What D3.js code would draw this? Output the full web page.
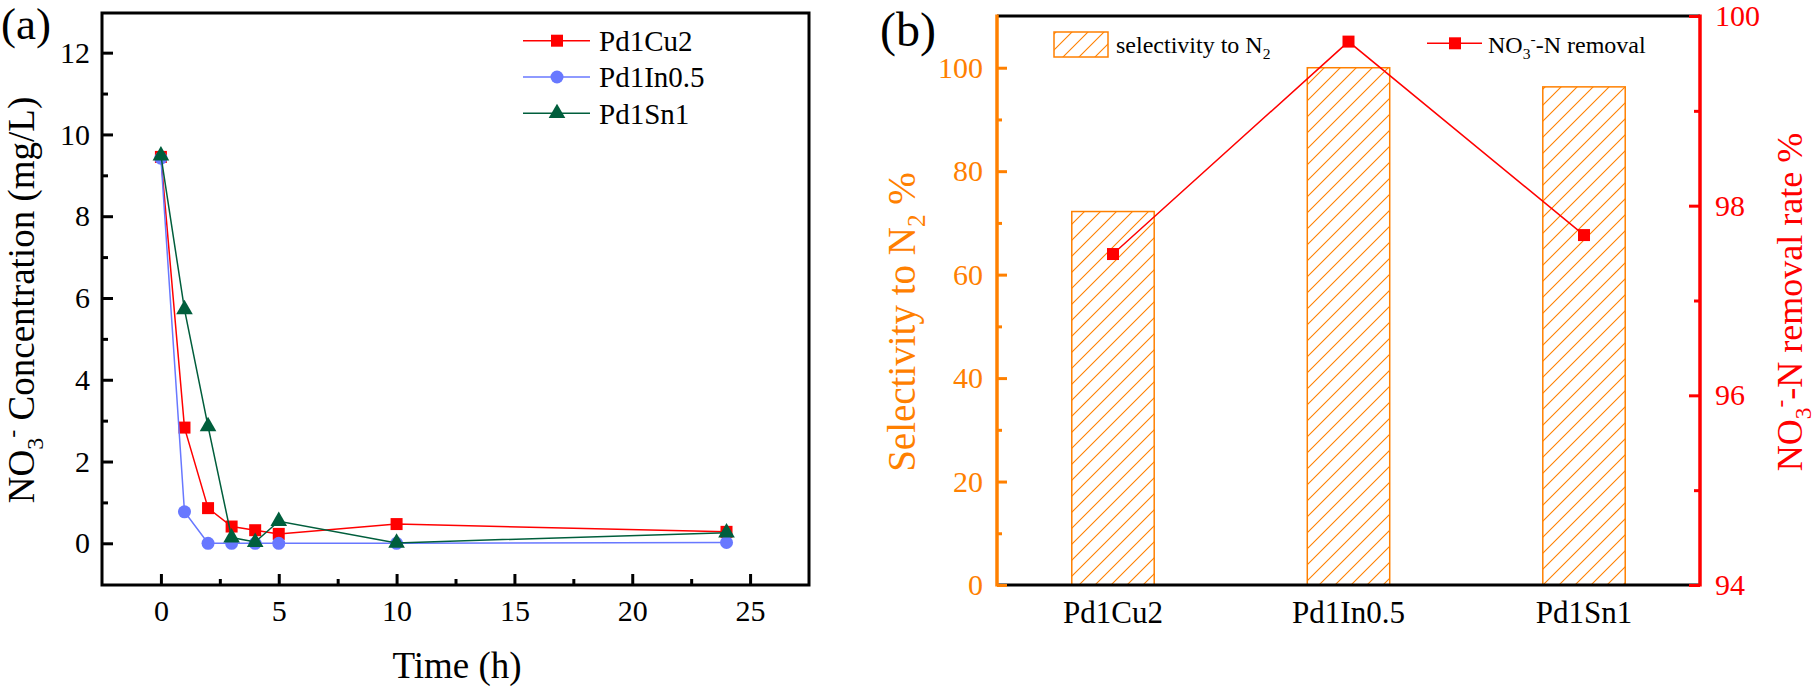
<!DOCTYPE html>
<html>
<head>
<meta charset="utf-8">
<script src="https://cdn.jsdelivr.net/npm/d3@7"></script>
<style>
  html, body { margin: 0; padding: 0; background: #fff; }
  svg { display: block; }
  svg text { font-family: "Liberation Serif", Tinos, "Times New Roman", "DejaVu Serif", serif !important; }
</style>
</head>
<body>
<script>
// ---------- Data: panel (a) ----------
const timeH   = [0, 1, 2, 3, 4, 5, 10, 24];
const pd1Cu2  = [9.45, 2.83, 0.86, 0.41, 0.32, 0.23, 0.47, 0.28];
const pd1In05 = [9.42, 0.77, 0.0, 0.0, 0.0, 0.0, 0.0, 0.02];
const pd1Sn1  = [9.48, 5.72, 2.86, 0.14, 0.03, 0.54, 0.01, 0.26];
const seriesNamesA = ["Pd1Cu2", "Pd1In0.5", "Pd1Sn1"];
const xTicksA = [0, 5, 10, 15, 20, 25];
const xMinorA = [2.5, 7.5, 12.5, 17.5, 22.5];
const yTicksA = [0, 2, 4, 6, 8, 10, 12];
const yMinorA = [1, 3, 5, 7, 9, 11];

// ---------- Data: panel (b) ----------
const catalysts   = ["Pd1Cu2", "Pd1In0.5", "Pd1Sn1"];
const selectivity = [72.2, 100, 96.3];
const removalRate = [97.49, 99.73, 97.69];
const yTicksB  = [0, 20, 40, 60, 80, 100];
const yMinorB  = [10, 30, 50, 70, 90];
const yTicksR  = [94, 96, 98, 100];
const yMinorR  = [95, 97, 99];

const ORANGE = "#FF8000", RED = "#FF0000", BLUE = "#6878FF", GREEN = "#005E3C";
const FONT = "Liberation Serif, Tinos, Times New Roman, DejaVu Serif, serif";

const svg = d3.select("body").append("svg").attr("width", 1817).attr("height", 688)
  .attr("font-family", FONT);

function richText(sel, parts, size) {
  let cur = 0;
  parts.forEach(p => {
    const target = p.sub ? size * 0.25 : (p.sup ? -size * 0.38 : 0);
    sel.append("tspan")
      .attr("dy", target - cur)
      .attr("font-size", (p.sub || p.sup) ? size * 0.65 : size)
      .text(p.t);
    cur = target;
  });
}

// ================= Panel (a) =================
const xA = d3.scaleLinear().domain([-2.5, 27.5]).range([102, 809]);
const yA = d3.scaleLinear().domain([-1.02, 12.97]).range([585, 13]);

const gA = svg.append("g");

function styleAxis(g, color) {
  g.attr("font-family", FONT);
  g.select(".domain").remove();
  g.selectAll("line").attr("stroke", color).attr("stroke-width", 3);
  g.selectAll("text").attr("fill", color).attr("font-family", FONT).attr("font-size", 30);
}

// left axis major/minor
gA.append("g").attr("transform", "translate(102,0)")
  .call(d3.axisLeft(yA).tickValues(yTicksA).tickSize(-11).tickPadding(12).tickFormat(d3.format("d")))
  .call(g => styleAxis(g, "#000"));
gA.append("g").attr("transform", "translate(102,0)")
  .call(d3.axisLeft(yA).tickValues(yMinorA).tickSize(-6).tickFormat(""))
  .call(g => styleAxis(g, "#000"));
// bottom axis major/minor
gA.append("g").attr("transform", "translate(0,585)")
  .call(d3.axisBottom(xA).tickValues(xTicksA).tickSize(-11).tickPadding(15).tickFormat(d3.format("d")))
  .call(g => styleAxis(g, "#000"));
gA.append("g").attr("transform", "translate(0,585)")
  .call(d3.axisBottom(xA).tickValues(xMinorA).tickSize(-6).tickFormat(""))
  .call(g => styleAxis(g, "#000"));

// frame
gA.append("rect").attr("x", xA.range()[0]).attr("y", yA.range()[1])
  .attr("width", xA.range()[1] - xA.range()[0]).attr("height", yA.range()[0] - yA.range()[1])
  .attr("fill", "none").attr("stroke", "#000").attr("stroke-width", 3);

const seriesA = [
  { name: seriesNamesA[0], vals: pd1Cu2, color: RED, sym: d3.symbolSquare, size: 144 },
  { name: seriesNamesA[1], vals: pd1In05, color: BLUE, sym: d3.symbolCircle, size: 133 },
  { name: seriesNamesA[2], vals: pd1Sn1, color: GREEN, sym: d3.symbolTriangle, size: 120 }
];
const lineA = d3.line().x(d => xA(d[0])).y(d => yA(d[1]));

seriesA.forEach(s => {
  const pts = timeH.map((t, i) => [t, s.vals[i]]);
  gA.append("path").attr("d", lineA(pts)).attr("fill", "none")
    .attr("stroke", s.color).attr("stroke-width", 1.5);
  gA.selectAll(null).data(pts).enter().append("path")
    .attr("transform", d => `translate(${xA(d[0])},${yA(d[1])})`)
    .attr("d", d3.symbol().type(s.sym).size(s.size)())
    .attr("fill", s.color);
});

// legend (a)
seriesA.forEach((s, i) => {
  const y = 40.7 + i * 36.3;
  gA.append("line").attr("x1", 523).attr("x2", 590).attr("y1", y).attr("y2", y)
    .attr("stroke", s.color).attr("stroke-width", 1.5);
  gA.append("path").attr("transform", `translate(557,${y})`)
    .attr("d", d3.symbol().type(s.sym).size(s.size)()).attr("fill", s.color);
  gA.append("text").attr("x", 599).attr("y", y).attr("dy", "0.36em")
    .attr("font-size", 29).attr("fill", "#000").text(s.name);
});

// axis titles (a)
gA.append("text").attr("x", 457).attr("y", 678).attr("text-anchor", "middle")
  .attr("font-size", 37).text("Time (h)");
const ytA = gA.append("text").attr("transform", "translate(34,300) rotate(-90)")
  .attr("text-anchor", "middle").attr("font-size", 37);
richText(ytA, [{ t: "NO" }, { t: "3", sub: true }, { t: "-", sup: true }, { t: " Concentration (mg/L)" }], 37);

svg.append("text").attr("x", 1).attr("y", 39).attr("font-size", 45).text("(a)");

// ================= Panel (b) =================
const xB = d3.scaleBand().domain(catalysts).range([997, 1700]).paddingInner(0.65).paddingOuter(0.3175);
const yB = d3.scaleLinear().domain([0, 110]).range([585, 16]);
const yR = d3.scaleLinear().domain([94, 100]).range([585, 16]);

const gB = svg.append("g");

const defs = svg.append("defs");
const pat = defs.append("pattern").attr("id", "hatch").attr("patternUnits", "userSpaceOnUse")
  .attr("width", 16).attr("height", 16);
pat.append("path").attr("d", "M-4,4 L4,-4 M0,16 L16,0 M12,20 L20,12")
  .attr("stroke", ORANGE).attr("stroke-width", 1.1).attr("fill", "none");

// bars
gB.selectAll(".bar").data(catalysts).enter().append("rect")
  .attr("x", d => xB(d)).attr("width", xB.bandwidth())
  .attr("y", (d, i) => yB(selectivity[i])).attr("height", (d, i) => yB(0) - yB(selectivity[i]))
  .attr("fill", "url(#hatch)").attr("stroke", ORANGE).attr("stroke-width", 1.5);

// top & bottom black lines
gB.append("line").attr("x1", 997).attr("x2", 1700).attr("y1", 16).attr("y2", 16)
  .attr("stroke", "#000").attr("stroke-width", 3);
gB.append("line").attr("x1", 997).attr("x2", 1700).attr("y1", 585).attr("y2", 585)
  .attr("stroke", "#000").attr("stroke-width", 3);

// left orange axis
gB.append("g").attr("transform", "translate(997,0)")
  .call(d3.axisLeft(yB).tickValues(yTicksB).tickSize(-10).tickPadding(14).tickFormat(d3.format("d")))
  .call(g => styleAxis(g, ORANGE));
gB.append("g").attr("transform", "translate(997,0)")
  .call(d3.axisLeft(yB).tickValues(yMinorB).tickSize(-5).tickFormat(""))
  .call(g => styleAxis(g, ORANGE));
gB.append("line").attr("x1", 997).attr("x2", 997).attr("y1", 14.5).attr("y2", 586.5)
  .attr("stroke", ORANGE).attr("stroke-width", 3.5);

// right red axis
gB.append("g").attr("transform", "translate(1700,0)")
  .call(d3.axisRight(yR).tickValues(yTicksR).tickSize(-11).tickPadding(15).tickFormat(d3.format("d")))
  .call(g => styleAxis(g, RED));
gB.append("g").attr("transform", "translate(1700,0)")
  .call(d3.axisRight(yR).tickValues(yMinorR).tickSize(-6).tickFormat(""))
  .call(g => styleAxis(g, RED));
gB.append("line").attr("x1", 1700).attr("x2", 1700).attr("y1", 14.5).attr("y2", 586.5)
  .attr("stroke", RED).attr("stroke-width", 3.5);

// category labels
gB.selectAll(".cat").data(catalysts).enter().append("text")
  .attr("x", d => xB(d) + xB.bandwidth() / 2).attr("y", 623)
  .attr("text-anchor", "middle").attr("font-size", 31).attr("fill", "#000").text(d => d);

// removal line
const ptsB = catalysts.map((c, i) => [xB(c) + xB.bandwidth() / 2, yR(removalRate[i])]);
gB.append("path").attr("d", d3.line()(ptsB)).attr("fill", "none")
  .attr("stroke", RED).attr("stroke-width", 1.5);
gB.selectAll(".sq").data(ptsB).enter().append("path")
  .attr("transform", d => `translate(${d[0]},${d[1]})`)
  .attr("d", d3.symbol().type(d3.symbolSquare).size(144)()).attr("fill", RED);

// legend (b)
gB.append("rect").attr("x", 1054).attr("y", 32).attr("width", 54).attr("height", 25)
  .attr("fill", "url(#hatch)").attr("stroke", ORANGE).attr("stroke-width", 1.5);
const lt1 = gB.append("text").attr("x", 1116).attr("y", 53).attr("font-size", 24).attr("fill", "#000");
richText(lt1, [{ t: "selectivity to N" }, { t: "2", sub: true }], 24);
gB.append("line").attr("x1", 1427).attr("x2", 1482).attr("y1", 43.3).attr("y2", 43.3)
  .attr("stroke", RED).attr("stroke-width", 1.5);
gB.append("path").attr("transform", "translate(1455,43.3)")
  .attr("d", d3.symbol().type(d3.symbolSquare).size(144)()).attr("fill", RED);
const lt2 = gB.append("text").attr("x", 1488).attr("y", 53).attr("font-size", 24).attr("fill", "#000");
richText(lt2, [{ t: "NO" }, { t: "3", sub: true }, { t: "-", sup: true }, { t: "-N removal" }], 24);

// axis titles (b)
const ytB = gB.append("text").attr("transform", "translate(915,322) rotate(-90)")
  .attr("text-anchor", "middle").attr("font-size", 39).attr("fill", ORANGE);
richText(ytB, [{ t: "Selectivity to N" }, { t: "2", sub: true }, { t: " %" }], 39);
const ytR = gB.append("text").attr("transform", "translate(1802,302) rotate(-90)")
  .attr("text-anchor", "middle").attr("font-size", 36).attr("fill", RED);
richText(ytR, [{ t: "NO" }, { t: "3", sub: true }, { t: "-", sup: true }, { t: "-N removal rate %" }], 36);

svg.append("text").attr("x", 880).attr("y", 46).attr("font-size", 48).text("(b)");
</script>
</body>
</html>
